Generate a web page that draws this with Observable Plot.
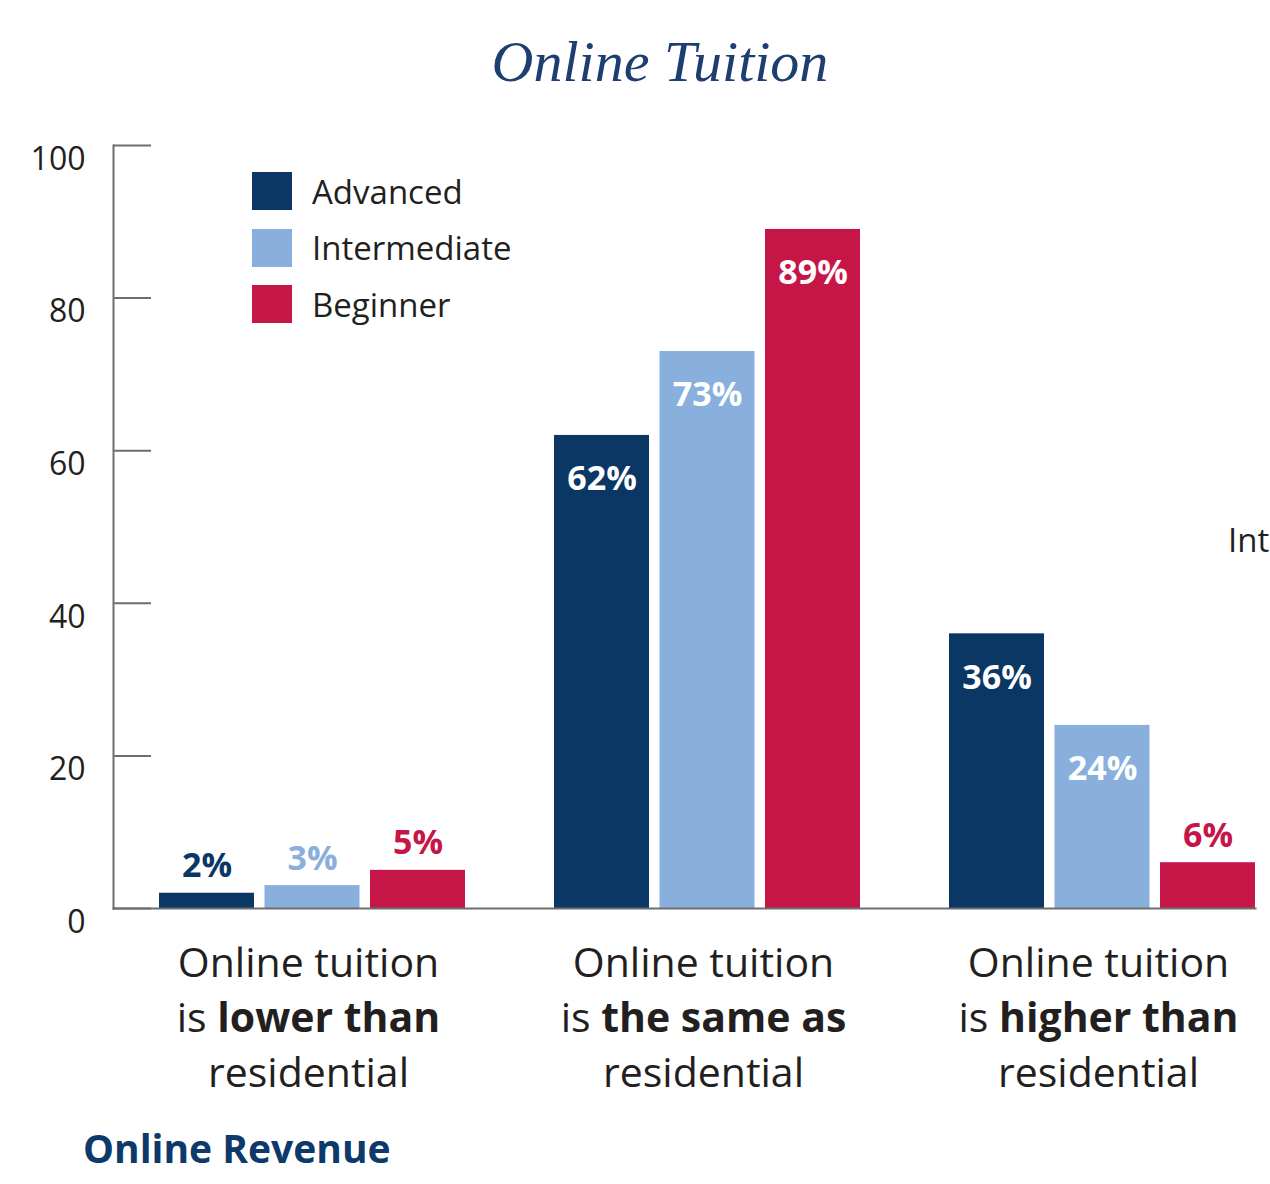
<!DOCTYPE html>
<html><head><meta charset="utf-8">
<script src="https://cdn.jsdelivr.net/npm/d3@7"></script>
<script src="https://cdn.jsdelivr.net/npm/@observablehq/plot@0.6"></script>
<style>
html,body{margin:0;padding:0;background:#fff;overflow:hidden;}
#wrap{position:relative;width:1270px;height:1184px;font-family:"Open Sans",sans-serif;color:#231f20;overflow:hidden;}
#title{height:120px;line-height:124px;padding-left:50px;text-align:center;font-family:"Liberation Serif",serif;font-style:italic;font-size:58px;color:#1d3e70;}
#chart svg{display:block;}
#foot{height:76px;line-height:76px;padding-left:83px;font-size:39px;font-weight:bold;color:#0e3a6b;}
#legend{position:absolute;left:252px;top:163px;}
.lrow{display:flex;align-items:center;height:56.5px;font-size:33px;}
.sw{width:40px;height:38px;margin-right:20px;}
#stray{position:absolute;left:1228px;top:517px;font-size:33px;white-space:nowrap;}
</style></head><body>
<div id="wrap">
  <div id="title">Online Tuition</div>
  <div id="chart"></div>
  <div id="foot">Online Revenue</div>
  <div id="legend"></div>
  <div id="stray">Int</div>
</div>
<script>
const groups = ["lower than", "the same as", "higher than"];
const series = ["Advanced", "Intermediate", "Beginner"];
const advanced = [2, 62, 36];
const intermediate = [3, 73, 24];
const beginner = [5, 89, 6];
const colors = ["#0a3764", "#89b0dc", "#c61648"];
const yTicks = [0, 20, 40, 60, 80, 100];

const valuesBySeries = [advanced, intermediate, beginner];
const rows = [];
series.forEach((s, i) => groups.forEach((g, j) => rows.push({group: g, series: s, si: i, value: valuesBySeries[i][j]})));

const step = 105.5; // sub-bar step within a group band
const marks = [];
series.forEach((s, i) => {
  const data = rows.filter(d => d.si === i);
  marks.push(Plot.barY(data, {x: "group", y: "value", fill: colors[i], insetLeft: i * step, insetRight: (2 - i) * step}));
  marks.push(Plot.text(data.filter(d => d.value >= 20), {x: "group", y: "value", text: d => d.value + "%", dx: (i - 1) * step, dy: 44, fill: "white", fontWeight: "bold", fontSize: 34}));
  marks.push(Plot.text(data.filter(d => d.value < 20), {x: "group", y: "value", text: d => d.value + "%", dx: (i - 1) * step, dy: -27, fill: colors[i], fontWeight: "bold", fontSize: 34}));
});

const chart = Plot.plot({
  width: 1270,
  height: 990,
  marginTop: 25,
  marginLeft: 113,
  marginRight: 15,
  marginBottom: 202,
  style: {fontFamily: "Open Sans, sans-serif", background: "white", overflow: "visible"},
  x: {domain: groups, paddingInner: 0.2253, paddingOuter: 0.0582, align: 1, label: null},
  y: {domain: [0, 100], label: null},
  marks: [
    Plot.axisY({ticks: yTicks, tickSize: -38, tickFormat: () => "", stroke: "#6d6e71", strokeWidth: 2, label: null}),
    Plot.axisY({ticks: yTicks, tickSize: 0, tickPadding: 28, dy: 14, fontSize: 32, fill: "#231f20", label: null}),
    Plot.axisX({tickSize: 0, tickPadding: 29, fontSize: 41, lineHeight: 1.35, fill: "#231f20", label: null, dx: -4,
      tickFormat: g => `Online tuition\nis ${g}\nresidential`}),
    ...marks,
    Plot.frame({anchor: "left", stroke: "#6d6e71", strokeWidth: 2}),
    Plot.frame({anchor: "bottom", stroke: "#6d6e71", strokeWidth: 2})
  ]
});
document.getElementById("chart").append(chart);

// make the comparison phrase bold in the x tick labels
chart.querySelectorAll('g[aria-label="x-axis tick label"] text').forEach(t => {
  const spans = t.querySelectorAll("tspan");
  if (spans.length >= 2) {
    const sp = spans[1];
    const txt = sp.textContent;
    const rest = txt.replace(/^is /, "");
    sp.textContent = "is ";
    const b = document.createElementNS("http://www.w3.org/2000/svg", "tspan");
    b.setAttribute("font-weight", "bold");
    b.textContent = rest;
    sp.appendChild(b);
  }
});

const legend = document.getElementById("legend");
series.forEach((s, i) => {
  const r = document.createElement("div");
  r.className = "lrow";
  const sw = document.createElement("div");
  sw.className = "sw";
  sw.style.background = colors[i];
  const lab = document.createElement("span");
  lab.textContent = s;
  r.append(sw, lab);
  legend.append(r);
});
</script>
</body></html>
